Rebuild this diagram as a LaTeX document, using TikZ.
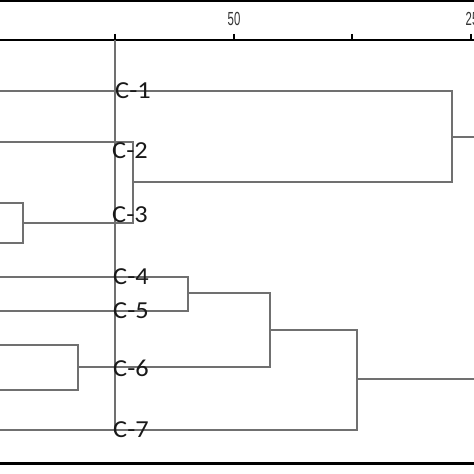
\documentclass[tikz,border=0pt]{standalone}
\usepackage{fontspec}
\newfontfamily\labfont{Carlito}
\newfontfamily\axfont{Liberation Sans}
\definecolor{ln}{HTML}{707070}
\begin{document}
\begin{tikzpicture}[x=1bp,y=-1bp,
  den/.style={draw=ln, line width=1.3bp, line join=miter},
  frame/.style={draw=black, line width=3bp},
  axisline/.style={draw=black, line width=2bp},
  tickmark/.style={draw=black, line width=1.5bp},
  lab/.style={font=\labfont\fontsize{24.5}{24.5}\selectfont, anchor=west, inner sep=0pt, text=black!90, xscale=1.08},
  axlab/.style={font=\axfont\fontsize{19}{19}\selectfont, inner sep=0pt, text=black!80, xscale=0.6}]
\useasboundingbox (0,0) rectangle (474,474);
% frame lines
\coordinate (tl) at (0,1); \coordinate (tr) at (474,1);
\coordinate (bl) at (0,463); \coordinate (br) at (474,463);
\draw[frame] (tl) -- (tr);
\draw[frame] (bl) -- (br);
% axis
\coordinate (al) at (0,40); \coordinate (ar) at (474,40);
\draw[axisline] (al) -- (ar);
\foreach \x in {115,234,352,471} \draw[tickmark] (\x,34) -- (\x,40);
\node[axlab] (a0) at (-3,19) {0};
\node[axlab] (a50) at (234,19) {50};
\node[axlab] (a25) at (472,19) {25};
% vertical guide
\coordinate (g1) at (115,40); \coordinate (g2) at (115,432);
\draw[den] (g1) -- (g2);
% leaves
\coordinate (l1) at (0,91);
\coordinate (l2) at (0,142);
\coordinate (l3a) at (0,203); \coordinate (l3b) at (0,243);
\coordinate (l4) at (0,277);
\coordinate (l5) at (0,311);
\coordinate (l6a) at (0,345); \coordinate (l6b) at (0,390);
\coordinate (l7) at (0,430);
% junctions
\coordinate (s3t) at (23,203); \coordinate (s3b) at (23,243); \coordinate (s3) at (23,223);
\coordinate (j23t) at (133,142); \coordinate (j23b) at (133,223); \coordinate (j23) at (133,182);
\coordinate (jat) at (452,91); \coordinate (jab) at (452,182); \coordinate (ja) at (452,137); \coordinate (ea) at (474,137);
\coordinate (j45t) at (188,277); \coordinate (j45b) at (188,311); \coordinate (j45) at (188,293);
\coordinate (s6t) at (78,345); \coordinate (s6b) at (78,390); \coordinate (s6) at (78,367);
\coordinate (j46t) at (270,293); \coordinate (j46b) at (270,367); \coordinate (j46) at (270,330);
\coordinate (jbt) at (357,330); \coordinate (jbb) at (357,430); \coordinate (jb) at (357,379); \coordinate (eb) at (474,379);
% dendrogram
\draw[den] (l1) -- (jat) -- (jab) -- (j23);
\draw[den] (ja) -- (ea);
\draw[den] (l2) -- (j23t) -- (j23b) -- (s3);
\draw[den] (l3a) -- (s3t) -- (s3b) -- (l3b);
\draw[den] (l4) -- (j45t) -- (j45b) -- (l5);
\draw[den] (j45) -- (j46t) -- (j46b) -- (s6);
\draw[den] (l6a) -- (s6t) -- (s6b) -- (l6b);
\draw[den] (j46) -- (jbt) -- (jbb) -- (l7);
\draw[den] (jb) -- (eb);
% labels
\node[lab] (c1) at (115,91) {C-1};
\node[lab] (c2) at (112,151) {C-2};
\node[lab] (c3) at (112,215) {C-3};
\node[lab] (c4) at (113,277) {C-4};
\node[lab] (c5) at (113,311) {C-5};
\node[lab] (c6) at (113,368) {C-6};
\node[lab] (c7) at (113,430) {C-7};
\end{tikzpicture}
\end{document}
